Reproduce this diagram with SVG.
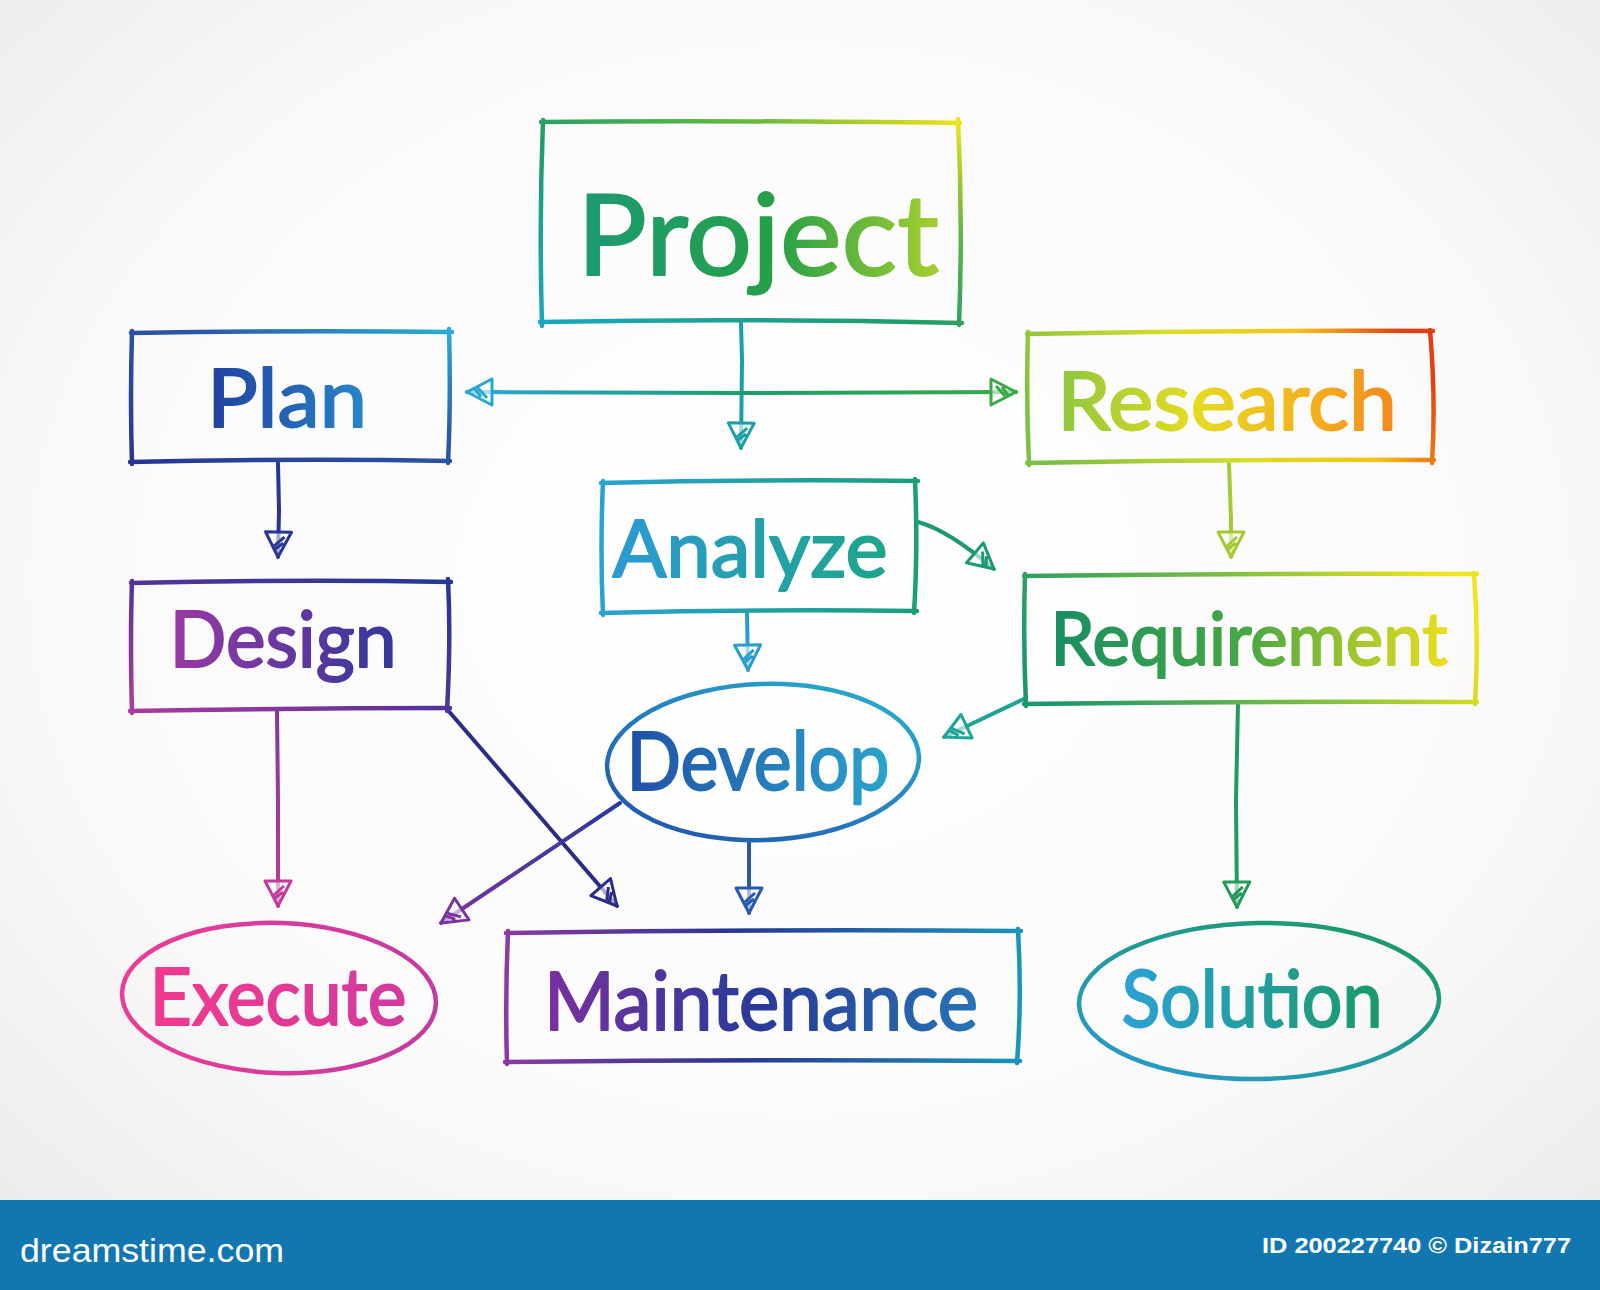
<svg xmlns="http://www.w3.org/2000/svg" width="1600" height="1290" viewBox="0 0 1600 1290">
<defs>
<style>
.lbl{font-family:Lato,"Open Sans","Liberation Sans",sans-serif;font-weight:400;text-anchor:middle;stroke-width:2;stroke-linejoin:round}
.box{fill:none;stroke-width:4.5;stroke-linecap:round;stroke-linejoin:round}
.con{fill:none;stroke-width:4;stroke-linecap:round}
.ah{fill:#ffffff;fill-opacity:0.6;stroke-width:3;stroke-linejoin:round}
.foot{font-family:"Liberation Sans",Arial,sans-serif;fill:#ffffff}
</style>
<radialGradient id="bg" cx="0.5" cy="0.45" r="0.75">
<stop offset="0" stop-color="#ffffff"/><stop offset="0.6" stop-color="#fafafa"/><stop offset="1" stop-color="#e9e9e9"/>
</radialGradient>
<linearGradient id="gProjBox" x1="0" y1="1" x2="1" y2="0">
<stop offset="0" stop-color="#1aa6c4"/><stop offset="0.45" stop-color="#1f9d68"/><stop offset="0.75" stop-color="#6ab840"/><stop offset="1" stop-color="#f2e416"/>
</linearGradient>
<linearGradient id="gProjTxt" x1="0" y1="0" x2="1" y2="0">
<stop offset="0" stop-color="#1c9a74"/><stop offset="0.55" stop-color="#25a047"/><stop offset="1" stop-color="#a6cf30"/>
</linearGradient>
<linearGradient id="gPlanBox" x1="0" y1="1" x2="1" y2="0">
<stop offset="0" stop-color="#283592"/><stop offset="0.6" stop-color="#2b58a8"/><stop offset="1" stop-color="#29b0d8"/>
</linearGradient>
<linearGradient id="gPlanTxt" x1="0" y1="0" x2="1" y2="0">
<stop offset="0" stop-color="#2140a0"/><stop offset="1" stop-color="#2886c8"/>
</linearGradient>
<linearGradient id="gResBox" x1="0" y1="0.6" x2="1" y2="0.4">
<stop offset="0" stop-color="#7cc040"/><stop offset="0.45" stop-color="#d8de28"/><stop offset="0.75" stop-color="#f5c41a"/><stop offset="1" stop-color="#e53e12"/>
</linearGradient>
<linearGradient id="gResTxt" x1="0" y1="0" x2="1" y2="0">
<stop offset="0" stop-color="#8cc63f"/><stop offset="0.4" stop-color="#e4dc22"/><stop offset="0.75" stop-color="#f4b01c"/><stop offset="1" stop-color="#f08a1e"/>
</linearGradient>
<linearGradient id="gAnaBox" x1="0" y1="0" x2="1" y2="0">
<stop offset="0" stop-color="#2aa2d2"/><stop offset="1" stop-color="#1a9f78"/>
</linearGradient>
<linearGradient id="gAnaTxt" x1="0" y1="0" x2="1" y2="0">
<stop offset="0" stop-color="#2b9ad2"/><stop offset="1" stop-color="#1ea58a"/>
</linearGradient>
<linearGradient id="gReqBox" x1="0" y1="0.6" x2="1" y2="0.4">
<stop offset="0" stop-color="#1b9868"/><stop offset="0.55" stop-color="#7cc040"/><stop offset="1" stop-color="#f2e41a"/>
</linearGradient>
<linearGradient id="gReqTxt" x1="0" y1="0" x2="1" y2="0">
<stop offset="0" stop-color="#188e62"/><stop offset="0.5" stop-color="#48a842"/><stop offset="1" stop-color="#ecdf1c"/>
</linearGradient>
<linearGradient id="gDesBox" x1="0" y1="1" x2="1" y2="0">
<stop offset="0" stop-color="#b03a9e"/><stop offset="0.5" stop-color="#53339a"/><stop offset="1" stop-color="#243894"/>
</linearGradient>
<linearGradient id="gDesTxt" x1="0" y1="0" x2="1" y2="0">
<stop offset="0" stop-color="#9a38a4"/><stop offset="1" stop-color="#33379c"/>
</linearGradient>
<linearGradient id="gDevBox" x1="0" y1="1" x2="1" y2="0">
<stop offset="0" stop-color="#1f4fa8"/><stop offset="0.5" stop-color="#2480c0"/><stop offset="1" stop-color="#29b4cc"/>
</linearGradient>
<linearGradient id="gDevTxt" x1="0" y1="0" x2="1" y2="0">
<stop offset="0" stop-color="#2050a8"/><stop offset="1" stop-color="#2aa4cc"/>
</linearGradient>
<linearGradient id="gExeBox" x1="0" y1="0" x2="1" y2="0">
<stop offset="0" stop-color="#ec3c94"/><stop offset="1" stop-color="#c43aa2"/>
</linearGradient>
<linearGradient id="gExeTxt" x1="0" y1="0" x2="1" y2="0">
<stop offset="0" stop-color="#f23a8e"/><stop offset="1" stop-color="#d23a9e"/>
</linearGradient>
<linearGradient id="gMaiBox" x1="0" y1="0" x2="1" y2="0">
<stop offset="0" stop-color="#8c3aa2"/><stop offset="0.45" stop-color="#283594"/><stop offset="1" stop-color="#1a96b8"/>
</linearGradient>
<linearGradient id="gMaiTxt" x1="0" y1="0" x2="1" y2="0">
<stop offset="0" stop-color="#7a30a0"/><stop offset="0.5" stop-color="#283a98"/><stop offset="1" stop-color="#2674b4"/>
</linearGradient>
<linearGradient id="gSolBox" x1="0" y1="1" x2="1" y2="0">
<stop offset="0" stop-color="#2a9ad4"/><stop offset="1" stop-color="#1a9a5c"/>
</linearGradient>
<linearGradient id="gSolTxt" x1="0" y1="0" x2="1" y2="0">
<stop offset="0" stop-color="#2aa2d6"/><stop offset="1" stop-color="#1a9a68"/>
</linearGradient>
<linearGradient id="gHor" gradientUnits="userSpaceOnUse" x1="466" y1="0" x2="1017" y2="0">
<stop offset="0" stop-color="#2aa6d4"/><stop offset="0.5" stop-color="#1d9d6e"/><stop offset="1" stop-color="#3aa846"/>
</linearGradient>
<linearGradient id="gDesExe" gradientUnits="userSpaceOnUse" x1="0" y1="710" x2="0" y2="906">
<stop offset="0" stop-color="#7a3aa2"/><stop offset="1" stop-color="#c03a9c"/>
</linearGradient>
<linearGradient id="gDevExe" gradientUnits="userSpaceOnUse" x1="620" y1="0" x2="441" y2="0">
<stop offset="0" stop-color="#283a98"/><stop offset="1" stop-color="#7a34a0"/>
</linearGradient>
<marker id="aTeal" markerUnits="userSpaceOnUse" viewBox="-3 -16 32 32" markerWidth="32" markerHeight="32" refX="25" refY="0" orient="auto-start-reverse"><path class="ah" stroke="#1aa0a8" d="M0,-13 L25,0 L0,13 Z M5,-6 L14,4 M11,-5 L17,3"/></marker>
<marker id="aCyan" markerUnits="userSpaceOnUse" viewBox="-3 -16 32 32" markerWidth="32" markerHeight="32" refX="25" refY="0" orient="auto-start-reverse"><path class="ah" stroke="#2aa6d4" d="M0,-13 L25,0 L0,13 Z M5,-6 L14,4 M11,-5 L17,3"/></marker>
<marker id="aGreen" markerUnits="userSpaceOnUse" viewBox="-3 -16 32 32" markerWidth="32" markerHeight="32" refX="25" refY="0" orient="auto-start-reverse"><path class="ah" stroke="#3aa846" d="M0,-13 L25,0 L0,13 Z M5,-6 L14,4 M11,-5 L17,3"/></marker>
<marker id="aNavy" markerUnits="userSpaceOnUse" viewBox="-3 -16 32 32" markerWidth="32" markerHeight="32" refX="25" refY="0" orient="auto-start-reverse"><path class="ah" stroke="#283592" d="M0,-13 L25,0 L0,13 Z M5,-6 L14,4 M11,-5 L17,3"/></marker>
<marker id="aYG" markerUnits="userSpaceOnUse" viewBox="-3 -16 32 32" markerWidth="32" markerHeight="32" refX="25" refY="0" orient="auto-start-reverse"><path class="ah" stroke="#a6c832" d="M0,-13 L25,0 L0,13 Z M5,-6 L14,4 M11,-5 L17,3"/></marker>
<marker id="aBlue" markerUnits="userSpaceOnUse" viewBox="-3 -16 32 32" markerWidth="32" markerHeight="32" refX="25" refY="0" orient="auto-start-reverse"><path class="ah" stroke="#2a9cd0" d="M0,-13 L25,0 L0,13 Z M5,-6 L14,4 M11,-5 L17,3"/></marker>
<marker id="aSea" markerUnits="userSpaceOnUse" viewBox="-3 -16 32 32" markerWidth="32" markerHeight="32" refX="25" refY="0" orient="auto-start-reverse"><path class="ah" stroke="#1a9a72" d="M0,-13 L25,0 L0,13 Z M5,-6 L14,4 M11,-5 L17,3"/></marker>
<marker id="aAqua" markerUnits="userSpaceOnUse" viewBox="-3 -16 32 32" markerWidth="32" markerHeight="32" refX="25" refY="0" orient="auto-start-reverse"><path class="ah" stroke="#1ea496" d="M0,-13 L25,0 L0,13 Z M5,-6 L14,4 M11,-5 L17,3"/></marker>
<marker id="aMag" markerUnits="userSpaceOnUse" viewBox="-3 -16 32 32" markerWidth="32" markerHeight="32" refX="25" refY="0" orient="auto-start-reverse"><path class="ah" stroke="#c43a9c" d="M0,-13 L25,0 L0,13 Z M5,-6 L14,4 M11,-5 L17,3"/></marker>
<marker id="aIndigo" markerUnits="userSpaceOnUse" viewBox="-3 -16 32 32" markerWidth="32" markerHeight="32" refX="25" refY="0" orient="auto-start-reverse"><path class="ah" stroke="#2a2c88" d="M0,-13 L25,0 L0,13 Z M5,-6 L14,4 M11,-5 L17,3"/></marker>
<marker id="aPurple" markerUnits="userSpaceOnUse" viewBox="-3 -16 32 32" markerWidth="32" markerHeight="32" refX="25" refY="0" orient="auto-start-reverse"><path class="ah" stroke="#7a34a0" d="M0,-13 L25,0 L0,13 Z M5,-6 L14,4 M11,-5 L17,3"/></marker>
<marker id="aRoyal" markerUnits="userSpaceOnUse" viewBox="-3 -16 32 32" markerWidth="32" markerHeight="32" refX="25" refY="0" orient="auto-start-reverse"><path class="ah" stroke="#2a58ac" d="M0,-13 L25,0 L0,13 Z M5,-6 L14,4 M11,-5 L17,3"/></marker>
<marker id="aForest" markerUnits="userSpaceOnUse" viewBox="-3 -16 32 32" markerWidth="32" markerHeight="32" refX="25" refY="0" orient="auto-start-reverse"><path class="ah" stroke="#229a5a" d="M0,-13 L25,0 L0,13 Z M5,-6 L14,4 M11,-5 L17,3"/></marker>
</defs>

<rect x="0" y="0" width="1600" height="1290" fill="url(#bg)"/>

<g id="connectors">
<path class="con" stroke="#1aa0a8" d="M741,323 L742,360 L741,448" marker-end="url(#aTeal)"/>
<path class="con" stroke="url(#gHor)" d="M467,392 L740,393 L1016,392"/>
<path class="con" stroke="#2aa6d4" d="M467,392 L500,392" marker-start="url(#aCyan)"/>
<path class="con" stroke="#3aa846" d="M985,392 L1016,392" marker-end="url(#aGreen)"/>
<path class="con" stroke="#283592" d="M278,463 L279,510 L278,557" marker-end="url(#aNavy)"/>
<path class="con" stroke="#a6c832" d="M1229,463 L1231,520 L1231,557" marker-end="url(#aYG)"/>
<path class="con" stroke="#2a9cd0" d="M747,613 L748,670" marker-end="url(#aBlue)"/>
<path class="con" stroke="#1a9a72" d="M918,522 Q948,530 994,569" marker-end="url(#aSea)"/>
<path class="con" stroke="#1ea496" d="M1026,698 L944,737" marker-end="url(#aAqua)"/>
<path class="con" stroke="url(#gDesExe)" d="M277,711 L278,800 L278,906" marker-end="url(#aMag)"/>
<path class="con" stroke="#2a2c88" d="M446,708 L617,906" marker-end="url(#aIndigo)"/>
<path class="con" stroke="url(#gDevExe)" d="M620,803 L441,923" marker-end="url(#aPurple)"/>
<path class="con" stroke="#2a58ac" d="M749,842 L749,913" marker-end="url(#aRoyal)"/>
<path class="con" stroke="#229a5a" d="M1238,703 L1236,800 L1237,907" marker-end="url(#aForest)"/>
</g>

<g id="project">
<path class="box" stroke="url(#gProjBox)" d="M541,122 Q700,120 960,123 M958,119 Q963,220 959,325 M962,323 Q750,318 540,322 M542,326 Q539,220 543,120"/>
<text class="lbl" x="758" y="275" font-size="112" textLength="362" lengthAdjust="spacingAndGlyphs" fill="url(#gProjTxt)" stroke="url(#gProjTxt)">Project</text>
</g>

<g id="plan">
<path class="box" stroke="url(#gPlanBox)" d="M131,333 Q300,330 452,332 M449,329 Q451,400 448,463 M450,461 Q300,458 130,462 M132,464 Q130,400 132,331"/>
<text class="lbl" x="287" y="427" font-size="82" textLength="160" lengthAdjust="spacingAndGlyphs" fill="url(#gPlanTxt)" stroke="url(#gPlanTxt)">Plan</text>
</g>

<g id="research">
<path class="box" stroke="url(#gResBox)" d="M1027,334 Q1230,330 1433,331 M1430,330 Q1436,400 1432,463 M1434,460 Q1230,459 1027,463 M1029,465 Q1026,400 1028,332"/>
<text class="lbl" x="1227" y="430" font-size="82" textLength="340" lengthAdjust="spacingAndGlyphs" fill="url(#gResTxt)" stroke="url(#gResTxt)">Research</text>
</g>

<g id="analyze">
<path class="box" stroke="url(#gAnaBox)" d="M601,483 Q760,479 918,481 M915,479 Q918,550 914,613 M917,611 Q760,609 601,613 M603,615 Q600,550 603,481"/>
<text class="lbl" x="750" y="577" font-size="80" textLength="275" lengthAdjust="spacingAndGlyphs" fill="url(#gAnaTxt)" stroke="url(#gAnaTxt)">Analyze</text>
</g>

<g id="requirement">
<path class="box" stroke="url(#gReqBox)" d="M1024,576 Q1250,573 1477,574 M1474,573 Q1479,640 1475,704 M1477,702 Q1250,701 1024,704 M1026,706 Q1023,640 1025,574"/>
<text class="lbl" x="1249" y="665" font-size="74" textLength="397" lengthAdjust="spacingAndGlyphs" fill="url(#gReqTxt)" stroke="url(#gReqTxt)">Requirement</text>
</g>

<g id="design">
<path class="box" stroke="url(#gDesBox)" d="M131,583 Q300,579 451,582 M448,579 Q451,640 447,711 M450,708 Q300,708 130,711 M132,713 Q130,640 132,581"/>
<text class="lbl" x="283" y="667" font-size="78" textLength="227" lengthAdjust="spacingAndGlyphs" fill="url(#gDesTxt)" stroke="url(#gDesTxt)">Design</text>
</g>

<g id="develop">
<ellipse class="box" stroke="url(#gDevBox)" cx="763" cy="762" rx="156" ry="78" transform="rotate(-2 763 762)"/>
<text class="lbl" x="758" y="790" font-size="82" textLength="263" lengthAdjust="spacingAndGlyphs" fill="url(#gDevTxt)" stroke="url(#gDevTxt)">Develop</text>
</g>

<g id="execute">
<ellipse class="box" stroke="url(#gExeBox)" cx="279" cy="998" rx="157" ry="75" transform="rotate(2 279 998)"/>
<text class="lbl" x="278" y="1025" font-size="80" textLength="257" lengthAdjust="spacingAndGlyphs" fill="url(#gExeTxt)" stroke="url(#gExeTxt)">Execute</text>
</g>

<g id="maintenance">
<path class="box" stroke="url(#gMaiBox)" d="M506,933 Q760,929 1021,931 M1018,929 Q1022,1000 1017,1063 M1020,1061 Q760,1059 505,1062 M507,1064 Q505,1000 508,931"/>
<text class="lbl" x="761" y="1030" font-size="82" textLength="434" lengthAdjust="spacingAndGlyphs" fill="url(#gMaiTxt)" stroke="url(#gMaiTxt)">Maintenance</text>
</g>

<g id="solution">
<ellipse class="box" stroke="url(#gSolBox)" cx="1259" cy="1001" rx="180" ry="78" transform="rotate(-1 1259 1001)"/>
<text class="lbl" x="1252" y="1027" font-size="80" textLength="261" lengthAdjust="spacingAndGlyphs" fill="url(#gSolTxt)" stroke="url(#gSolTxt)">Solution</text>
</g>

<g id="footer">
<rect x="0" y="1200" width="1600" height="90" fill="#1277b0"/>
<text class="foot" x="20" y="1262" font-size="34" textLength="264" lengthAdjust="spacingAndGlyphs">dreamstime.com</text>
<text class="foot" x="1571" y="1253" font-size="22" font-weight="700" text-anchor="end" textLength="309" lengthAdjust="spacingAndGlyphs">ID 200227740 © Dizain777</text>
</g>
</svg>
